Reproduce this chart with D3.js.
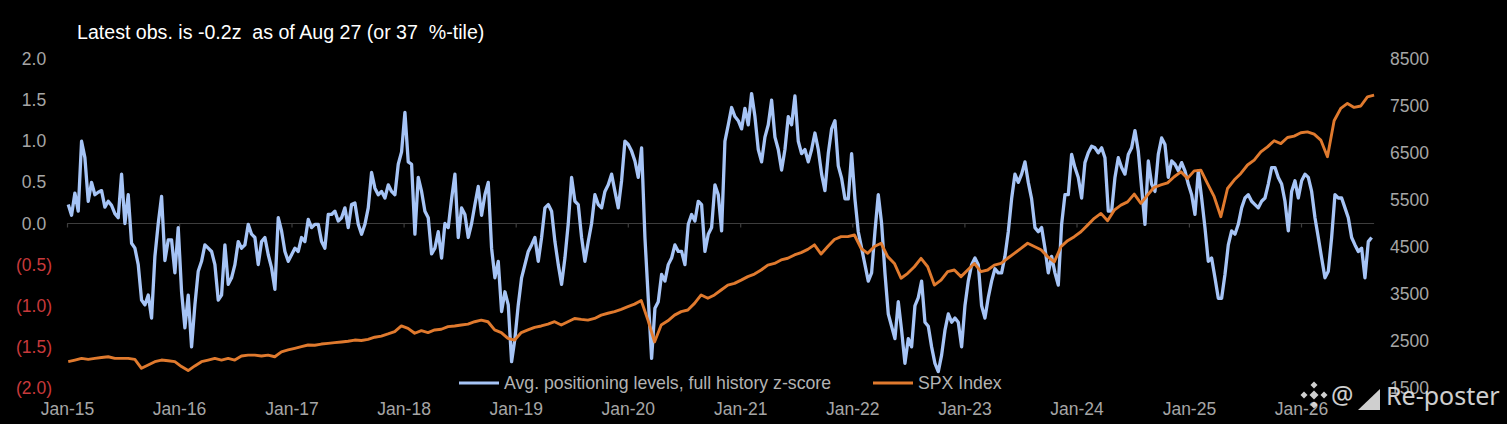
<!DOCTYPE html>
<html><head><meta charset="utf-8">
<script src="https://cdn.jsdelivr.net/npm/d3@7"></script>
<style>
html,body{margin:0;padding:0;background:#000;overflow:hidden;}
svg{display:block;}
</style></head><body>
<svg id="chart" width="1507" height="424"></svg>
<script>
// ---------------- data ----------------
const titleText = "Latest obs. is -0.2z  as of Aug 27 (or 37  %-tile)";
const seriesNames = ["Avg. positioning levels, full history z-score", "SPX Index"];
const xTickDates = ["2015-01-01","2016-01-01","2017-01-01","2018-01-01","2019-01-01","2020-01-01","2021-01-01","2022-01-01","2023-01-01","2024-01-01","2025-01-01","2026-01-01"];
const xTickLabels = ["Jan-15","Jan-16","Jan-17","Jan-18","Jan-19","Jan-20","Jan-21","Jan-22","Jan-23","Jan-24","Jan-25","Jan-26"];
const leftTicks = [2, 1.5, 1, 0.5, 0, -0.5, -1, -1.5, -2];
const leftTickLabels = ["2.0","1.5","1.0","0.5","0.0","(0.5)","(1.0)","(1.5)","(2.0)"];
const rightTicks = [8500, 7500, 6500, 5500, 4500, 3500, 2500, 1500];
const rightTickLabels = ["8500","7500","6500","5500","4500","3500","2500","1500"];

// z-score series: evenly spaced observations between these dates
const zFirstDate = "2015-01-05", zLastDate = "2026-08-19";
const zscore = [
0.23,0.10,0.37,0.15,1.00,0.80,0.27,0.50,0.35,0.38,
0.40,0.20,0.27,0.22,0.12,0.07,0.60,0.00,0.35,-0.24,
-0.30,-0.50,-0.93,-0.99,-0.87,-1.15,-0.40,0.00,0.33,-0.45,
-0.20,-0.20,-0.60,-0.05,-0.83,-1.27,-0.87,-1.50,-0.99,-0.58,
-0.46,-0.26,-0.30,-0.34,-0.50,-0.93,-0.87,-0.26,-0.74,-0.66,
-0.50,-0.22,-0.30,-0.26,-0.01,-0.13,-0.17,-0.50,-0.22,-0.17,
-0.38,-0.54,-0.80,0.07,-0.09,-0.34,-0.46,-0.38,-0.30,-0.34,
-0.17,-0.22,0.05,-0.05,-0.01,-0.01,-0.22,-0.30,0.11,0.11,
0.15,0.03,0.07,0.19,-0.05,0.23,0.25,-0.01,-0.13,-0.01,
0.19,0.62,0.43,0.35,0.39,0.31,0.47,0.39,0.35,0.72,
0.87,1.35,0.75,0.72,-0.13,0.56,0.39,0.15,0.07,-0.37,
-0.30,-0.10,-0.42,0.00,-0.05,0.30,0.60,-0.17,0.19,0.11,
-0.17,0.00,0.23,0.45,0.10,0.35,0.50,-0.30,-0.66,-0.46,
-1.07,-0.83,-0.99,-1.68,-1.40,-0.99,-0.66,-0.50,-0.34,-0.26,
-0.17,-0.46,-0.17,0.19,0.23,0.15,-0.22,-0.50,-0.74,-0.42,
0.00,0.56,0.27,0.23,-0.17,-0.46,-0.22,0.00,0.35,0.23,
0.19,0.39,0.47,0.60,0.39,0.19,0.52,1.00,0.96,0.88,
0.76,0.56,0.92,-0.17,-0.91,-1.64,-1.03,-0.95,-0.62,-0.70,
-0.50,-0.42,-0.26,-0.34,-0.34,-0.50,-0.01,0.11,0.03,0.27,
0.23,-0.34,-0.13,-0.05,0.47,0.35,-0.09,1.00,1.20,
1.41,1.30,1.25,1.15,1.40,1.20,1.58,1.30,0.90,0.75,
1.05,1.20,1.50,1.05,0.90,0.65,0.90,1.30,1.20,1.55,
1.00,0.85,0.90,0.75,0.90,1.10,0.90,0.60,0.40,0.85,
1.15,1.25,0.70,0.55,0.30,0.30,0.85,0.30,-0.10,-0.30,
-0.50,-0.70,-0.60,-0.10,0.35,0.00,-0.60,-1.10,-1.25,-1.40,
-0.95,-1.30,-1.70,-1.40,-1.50,-1.00,-0.90,-0.70,-1.20,-1.25,
-1.50,-1.70,-1.80,-1.60,-1.30,-1.10,-1.20,-1.15,-1.20,-1.50,
-1.00,-0.70,-0.50,-0.42,-0.50,-1.00,-1.15,-0.90,-0.70,-0.55,
-0.60,-0.60,-0.40,-0.10,0.30,0.60,0.50,0.60,0.75,0.50,
0.30,-0.05,-0.10,-0.05,-0.30,-0.60,-0.40,-0.60,-0.75,
-0.01,0.35,0.35,0.84,0.68,0.56,0.31,0.74,0.86,0.94,
0.92,0.86,0.92,0.80,0.15,0.15,0.56,0.80,0.68,0.60,
0.84,0.92,1.13,0.88,0.43,-0.01,0.76,0.48,0.39,0.84,
1.04,0.96,0.56,0.76,0.72,0.64,0.74,0.64,0.48,0.35,
0.11,0.64,0.31,-0.05,-0.46,-0.42,-0.66,-0.91,-0.91,-0.62,
-0.26,-0.09,-0.13,-0.01,0.19,0.31,0.35,0.27,0.23,0.19,
0.27,0.31,0.48,0.68,0.68,0.56,0.48,0.27,-0.09,0.39,
0.52,0.31,0.52,0.60,0.56,0.39,0.07,-0.17,-0.42,-0.66,
-0.58,-0.17,0.35,0.31,0.31,0.19,0.07,-0.17,-0.26,-0.34,
-0.30,-0.66,-0.22,-0.17
];

// SPX Index series: evenly spaced observations between these dates
const spxFirstDate = "2015-01-05", spxLastDate = "2026-08-27";
const spx = [
2060,2095,2130,2110,2130,2150,2165,2130,2130,2130,
2110,1920,1990,2060,2095,2080,2060,1955,1870,1970,
2060,2095,2130,2095,2130,2095,2180,2200,2200,2180,
2200,2165,2270,2310,2345,2380,2415,2410,2435,2450,
2465,2480,2495,2520,2510,2535,2580,2605,2650,2700,
2820,2770,2665,2720,2680,2735,2750,2805,2820,2840,
2860,2910,2945,2910,2735,2680,2555,2520,2680,2735,
2790,2820,2860,2910,2840,2910,2980,2960,2945,2980,
3050,3090,3125,3175,3230,3285,3360,2950,2480,2840,
2930,3050,3125,3160,3300,3480,3410,3480,3585,3690,
3725,3795,3870,3925,4010,4115,4150,4225,4260,4330,
4380,4450,4545,4350,4510,4660,4720,4720,4755,4470,
4365,4510,4580,4295,4150,3835,3940,4080,4260,4080,
3690,3795,3975,4010,3870,4010,4150,3975,4010,4115,
4150,4260,4365,4470,4580,4510,4440,4295,4185,
4505,4635,4720,4825,4965,5110,5215,5060,5285,5390,
5460,5625,5430,5605,5770,5820,5865,5995,6100,5960,
6120,6135,5850,5570,5145,5745,5925,6065,6245,6350,
6525,6630,6760,6700,6830,6860,6930,6950,6900,6775,
6420,7185,7450,7555,7470,7500,7695,7730
];

// ---------------- chart ----------------
const parseDate = d3.utcParse("%Y-%m-%d");
function spreadDates(first, last, n) {
  const a = +parseDate(first), b = +parseDate(last);
  return d3.range(n).map(i => new Date(a + (b - a) * i / (n - 1)));
}
const zDates = spreadDates(zFirstDate, zLastDate, zscore.length);
const spxDates = spreadDates(spxFirstDate, spxLastDate, spx.length);
const zData = zscore.map((v, i) => ({date: zDates[i], v}));
const spxData = spx.map((v, i) => ({date: spxDates[i], v}));

const C = {
  blue: "#a6c4f6", orange: "#e07a2e", tick: "#a6a6a6", neg: "#c8393b",
  legend: "#b3b3b3", zero: "#3d3d3d", title: "#ffffff"
};
const FONT = "'Liberation Sans', Arial, sans-serif";

const svg = d3.select("#chart");
svg.append("rect").attr("width", 1507).attr("height", 424).attr("fill", "#000");

const x = d3.scaleUtc().domain([parseDate("2015-01-01"), parseDate("2026-01-01")]).range([67, 1301]);
const yL = d3.scaleLinear().domain([-2, 2]).range([388, 59]);
const yR = d3.scaleLinear().domain([1500, 8500]).range([388, 59]);
const tickDates = xTickDates.map(parseDate);

// title
svg.append("text").attr("x", 77).attr("y", 39)
  .attr("fill", C.title).attr("font-family", FONT).attr("font-size", 19.6)
  .attr("xml:space", "preserve").style("white-space", "pre")
  .text(titleText);

// zero line with year ticks
const x0 = x(parseDate("2015-01-01")), x1 = x(spxDates[spxDates.length - 1]);
svg.append("line").attr("x1", x0).attr("x2", x1).attr("y1", yL(0)).attr("y2", yL(0))
  .attr("stroke", C.zero).attr("stroke-width", 1.2);
const zAxis = svg.append("g").attr("transform", `translate(0,${yL(0)})`)
  .call(d3.axisBottom(x).tickValues(tickDates).tickSize(4).tickFormat(""));
zAxis.select(".domain").remove();
zAxis.selectAll("line").attr("stroke", C.zero).attr("stroke-width", 1.2);

// left axis
const gl = svg.append("g").attr("transform", "translate(34,0)")
  .call(d3.axisLeft(yL).tickValues(leftTicks).tickSize(0).tickPadding(0)
    .tickFormat((d, i) => leftTickLabels[i]));
gl.select(".domain").remove();
gl.selectAll("text").attr("x", 0).attr("text-anchor", "middle")
  .attr("font-family", FONT).attr("font-size", 17.5)
  .attr("fill", d => d < 0 ? C.neg : C.tick);

// right axis
const gr = svg.append("g").attr("transform", "translate(1390,0)")
  .call(d3.axisRight(yR).tickValues(rightTicks).tickSize(0).tickPadding(0)
    .tickFormat((d, i) => rightTickLabels[i]));
gr.select(".domain").remove();
gr.selectAll("text").attr("font-family", FONT).attr("font-size", 17.5).attr("fill", C.tick);

// bottom axis labels
const gb = svg.append("g").attr("transform", "translate(0,409)")
  .call(d3.axisBottom(x).tickValues(tickDates).tickSize(0).tickPadding(0)
    .tickFormat((d, i) => xTickLabels[i]));
gb.select(".domain").remove();
gb.selectAll("text").attr("dy", "0.34em").attr("font-family", FONT)
  .attr("font-size", 17.5).attr("fill", C.tick);

// lines
const lineZ = d3.line().x(d => x(d.date)).y(d => yL(d.v));
const lineS = d3.line().x(d => x(d.date)).y(d => yR(d.v));
svg.append("path").datum(zData).attr("d", lineZ).attr("fill", "none")
  .attr("stroke", C.blue).attr("stroke-width", 3.3).attr("stroke-linejoin", "round");
svg.append("path").datum(spxData).attr("d", lineS).attr("fill", "none")
  .attr("stroke", C.orange).attr("stroke-width", 2.9).attr("stroke-linejoin", "round");

// legend
const legend = [
  {name: seriesNames[0], color: C.blue, x: 459},
  {name: seriesNames[1], color: C.orange, x: 873}
];
const lg = svg.append("g");
legend.forEach(l => {
  lg.append("line").attr("x1", l.x).attr("x2", l.x + 40).attr("y1", 383).attr("y2", 383)
    .attr("stroke", l.color).attr("stroke-width", 3);
  lg.append("text").attr("x", l.x + 45).attr("y", 383).attr("dy", "0.35em")
    .attr("font-family", FONT).attr("font-size", 17.7).attr("fill", C.legend).text(l.name);
});

// watermark
const wm = svg.append("g").attr("fill", "#e6e6e6").attr("opacity", 0.9);
const cx = 1314, cy = 395;
[[0,-10],[-10,0],[10,0],[0,10],[0,0]].forEach(([dx, dy]) => {
  const s = (dx === 0 && dy === 0) ? 4.5 : 3.5;
  wm.append("path").attr("d", `M${cx+dx},${cy+dy-s}L${cx+dx+s},${cy+dy}L${cx+dx},${cy+dy+s}L${cx+dx-s},${cy+dy}Z`);
});
wm.append("text").attr("x", 1331).attr("y", 404).attr("font-family", "'Noto Sans', sans-serif")
  .attr("font-size", 25).text("@");
wm.append("path").attr("d", "M1358,410L1380,389L1380,410Z");
wm.append("text").attr("x", 1386).attr("y", 405).attr("font-family", "'Noto Sans', sans-serif")
  .attr("font-size", 25).text("Re-poster");
</script>
</body></html>
